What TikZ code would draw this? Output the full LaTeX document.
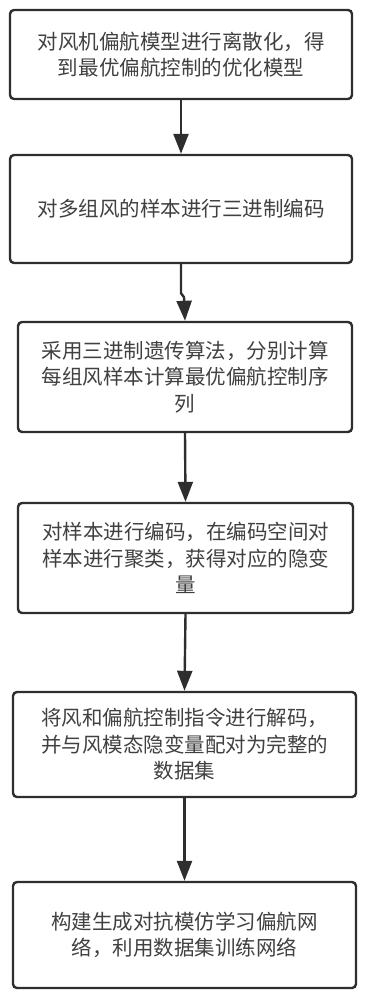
\documentclass[tikz,border=0pt]{standalone}
\usepackage{fontspec}
\newfontfamily\cjk{Noto Sans CJK SC}
\usetikzlibrary{arrows.meta}
\definecolor{edge}{HTML}{2E2E2E}
\definecolor{txt}{HTML}{404040}
\tikzset{
  stepbox/.style={draw=edge, line width=2.4pt, rounded corners=4pt, fill=white,
    align=center, inner sep=0pt, text=txt,
    font=\cjk\fontsize{20.5}{26.5}\selectfont},
  arr/.style={draw=edge, line width=2.4pt, -{Triangle[length=20pt,width=15pt]}}
}
\begin{document}
\begin{tikzpicture}[x=1pt,y=-1pt]
\useasboundingbox (0,0) rectangle (366,1000);
\node[stepbox, minimum width=342pt, minimum height=89pt] (b1) at (181,54.5)
  {对风机偏航模型进行离散化，得\\到最优偏航控制的优化模型};
\node[stepbox, minimum width=342pt, minimum height=108pt] (b2) at (181,209)
  {对多组风的样本进行三进制编码};
\node[stepbox, minimum width=334pt, minimum height=110pt] (b3) at (185,377)
  {采用三进制遗传算法，分别计算\\每组风样本计算最优偏航控制序\\列};
\node[stepbox, minimum width=335pt, minimum height=110pt] (b4) at (185.5,558)
  {对样本进行编码，在编码空间对\\样本进行聚类，获得对应的隐变\\量};
\node[stepbox, minimum width=343pt, minimum height=105pt] (b5) at (184.5,744.5)
  {将风和偏航控制指令进行解码，\\并与风模态隐变量配对为完整的\\数据集};
\node[stepbox, minimum width=343pt, minimum height=106pt] (b6) at (184.5,935)
  {构建生成对抗模仿学习偏航网\\络，利用数据集训练网络};
\draw[arr] (b1.south) -- (b2.north);
\draw[arr] (b2.south) -- ++(0,29) -- ++(3,4) -- (b3.north);
\draw[arr] (b3.south) -- (b4.north);
\draw[arr] (b4.south) -- (b5.north);
\draw[arr] (b5.south) -- (b6.north);
\end{tikzpicture}
\end{document}
